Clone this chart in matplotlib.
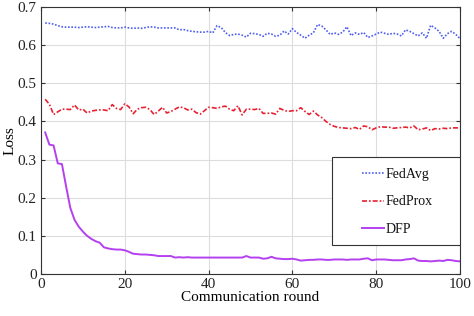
import matplotlib
matplotlib.use("Agg")
import matplotlib.pyplot as plt
from matplotlib.patches import Rectangle
import numpy as np

plt.rcParams['font.family'] = ['Liberation Serif', 'DejaVu Serif']

# Loss per communication round
rounds = np.arange(1, 101)

fedavg = [
    0.658, 0.657, 0.655, 0.651, 0.648, 0.647, 0.647, 0.647, 0.646, 0.647,
    0.648, 0.647, 0.646, 0.647, 0.648, 0.649, 0.646, 0.645, 0.645, 0.647,
    0.645, 0.644, 0.645, 0.644, 0.646, 0.648, 0.647, 0.645, 0.645, 0.645,
    0.645, 0.645, 0.640, 0.641, 0.638, 0.636, 0.635, 0.634, 0.634, 0.636,
    0.632, 0.651, 0.646, 0.633, 0.625, 0.628, 0.629, 0.626, 0.621, 0.631,
    0.630, 0.628, 0.623, 0.631, 0.629, 0.623, 0.626, 0.637, 0.629, 0.643,
    0.633, 0.626, 0.618, 0.626, 0.632, 0.654, 0.650, 0.640, 0.628, 0.632,
    0.628, 0.634, 0.648, 0.625, 0.632, 0.628, 0.633, 0.620, 0.624, 0.629,
    0.634, 0.631, 0.628, 0.631, 0.629, 0.624, 0.640, 0.636, 0.630, 0.624,
    0.632, 0.618, 0.652, 0.645, 0.636, 0.618, 0.630, 0.636, 0.628, 0.617,
]

fedprox = [
    0.458, 0.445, 0.418, 0.425, 0.432, 0.432, 0.431, 0.443, 0.430, 0.432,
    0.422, 0.427, 0.429, 0.430, 0.430, 0.428, 0.444, 0.434, 0.431, 0.446,
    0.438, 0.420, 0.432, 0.436, 0.437, 0.431, 0.418, 0.427, 0.437, 0.422,
    0.426, 0.432, 0.438, 0.436, 0.430, 0.432, 0.423, 0.419, 0.428, 0.437,
    0.436, 0.434, 0.438, 0.440, 0.432, 0.428, 0.441, 0.417, 0.432, 0.432,
    0.431, 0.434, 0.421, 0.421, 0.422, 0.419, 0.434, 0.429, 0.426, 0.428,
    0.428, 0.436, 0.426, 0.418, 0.427, 0.417, 0.410, 0.400, 0.392, 0.387,
    0.384, 0.383, 0.382, 0.381, 0.384, 0.379, 0.388, 0.386, 0.378, 0.383,
    0.386, 0.385, 0.385, 0.382, 0.383, 0.384, 0.385, 0.383, 0.388, 0.378,
    0.380, 0.383, 0.376, 0.381, 0.380, 0.382, 0.381, 0.383, 0.383, 0.383,
]

dfp = [
    0.371, 0.339, 0.337, 0.290, 0.288, 0.229, 0.173, 0.142, 0.124, 0.111,
    0.100, 0.092, 0.086, 0.082, 0.070, 0.067, 0.065, 0.064, 0.064, 0.062,
    0.058, 0.053, 0.052, 0.051, 0.051, 0.050, 0.049, 0.047, 0.047, 0.047,
    0.047, 0.043, 0.044, 0.043, 0.044, 0.043, 0.043, 0.043, 0.043, 0.043,
    0.043, 0.043, 0.043, 0.043, 0.043, 0.043, 0.043, 0.043, 0.047, 0.043,
    0.043, 0.043, 0.040, 0.041, 0.045, 0.041, 0.040, 0.039, 0.039, 0.040,
    0.038, 0.035, 0.036, 0.037, 0.037, 0.038, 0.038, 0.037, 0.037, 0.038,
    0.038, 0.038, 0.037, 0.038, 0.038, 0.038, 0.040, 0.041, 0.036, 0.038,
    0.038, 0.038, 0.037, 0.036, 0.036, 0.036, 0.038, 0.039, 0.041, 0.035,
    0.034, 0.034, 0.033, 0.034, 0.035, 0.034, 0.037, 0.036, 0.034, 0.033,
]

fig = plt.figure(figsize=(4.74, 3.16), dpi=100)
ax = fig.add_axes([0.0865, 0.133, 0.884, 0.845])

ax.plot(rounds, fedavg, color='#4f5ff0', linestyle=(0, (1, 1)), linewidth=1.2, label='FedAvg')
ax.plot(rounds, fedprox, color='#e82030', linestyle=(0, (3, 1.2, 1, 1.2)), linewidth=1.2, label='FedProx')
ax.plot(rounds, dfp, color='#b440f0', linestyle='-', linewidth=1.4, label='DFP')

ax.set_xlim(0, 100)
ax.set_ylim(0, 0.7)
ax.set_xticks(np.arange(0, 101, 20))
ax.set_yticks(np.arange(0, 0.71, 0.1))
ax.set_yticklabels(['0', '0.1', '0.2', '0.3', '0.4', '0.5', '0.6', '0.7'])
ax.grid(True, color='#dddddd', linewidth=0.8)
ax.set_axisbelow(True)
ax.tick_params(direction='in', length=3, labelsize=11, top=True, right=True,
               colors='#333333', labelcolor='#222222', pad=3)
for s in ax.spines.values():
    s.set_color('#333333')
    s.set_linewidth(0.8)

ax.set_xlabel('Communication round', fontsize=11, labelpad=0)
ax.set_ylabel('Loss', fontsize=11, labelpad=1)

# legend box drawn by hand (wide, with empty space on the left)
box = Rectangle((0.695, 0.109), 0.305, 0.329, transform=ax.transAxes,
                facecolor='white', edgecolor='#333333', linewidth=0.8, zorder=5)
ax.add_patch(box)
leg = ax.legend(loc='center left', bbox_to_anchor=(0.766, 0.27), fontsize=10,
                frameon=False, handlelength=1.6, handletextpad=0.1,
                labelspacing=1.05, borderpad=0, borderaxespad=0)
leg.set_zorder(6)
for t in leg.get_texts():
    t.set_color('#111111')

fig.savefig('out.png', dpi=100)
